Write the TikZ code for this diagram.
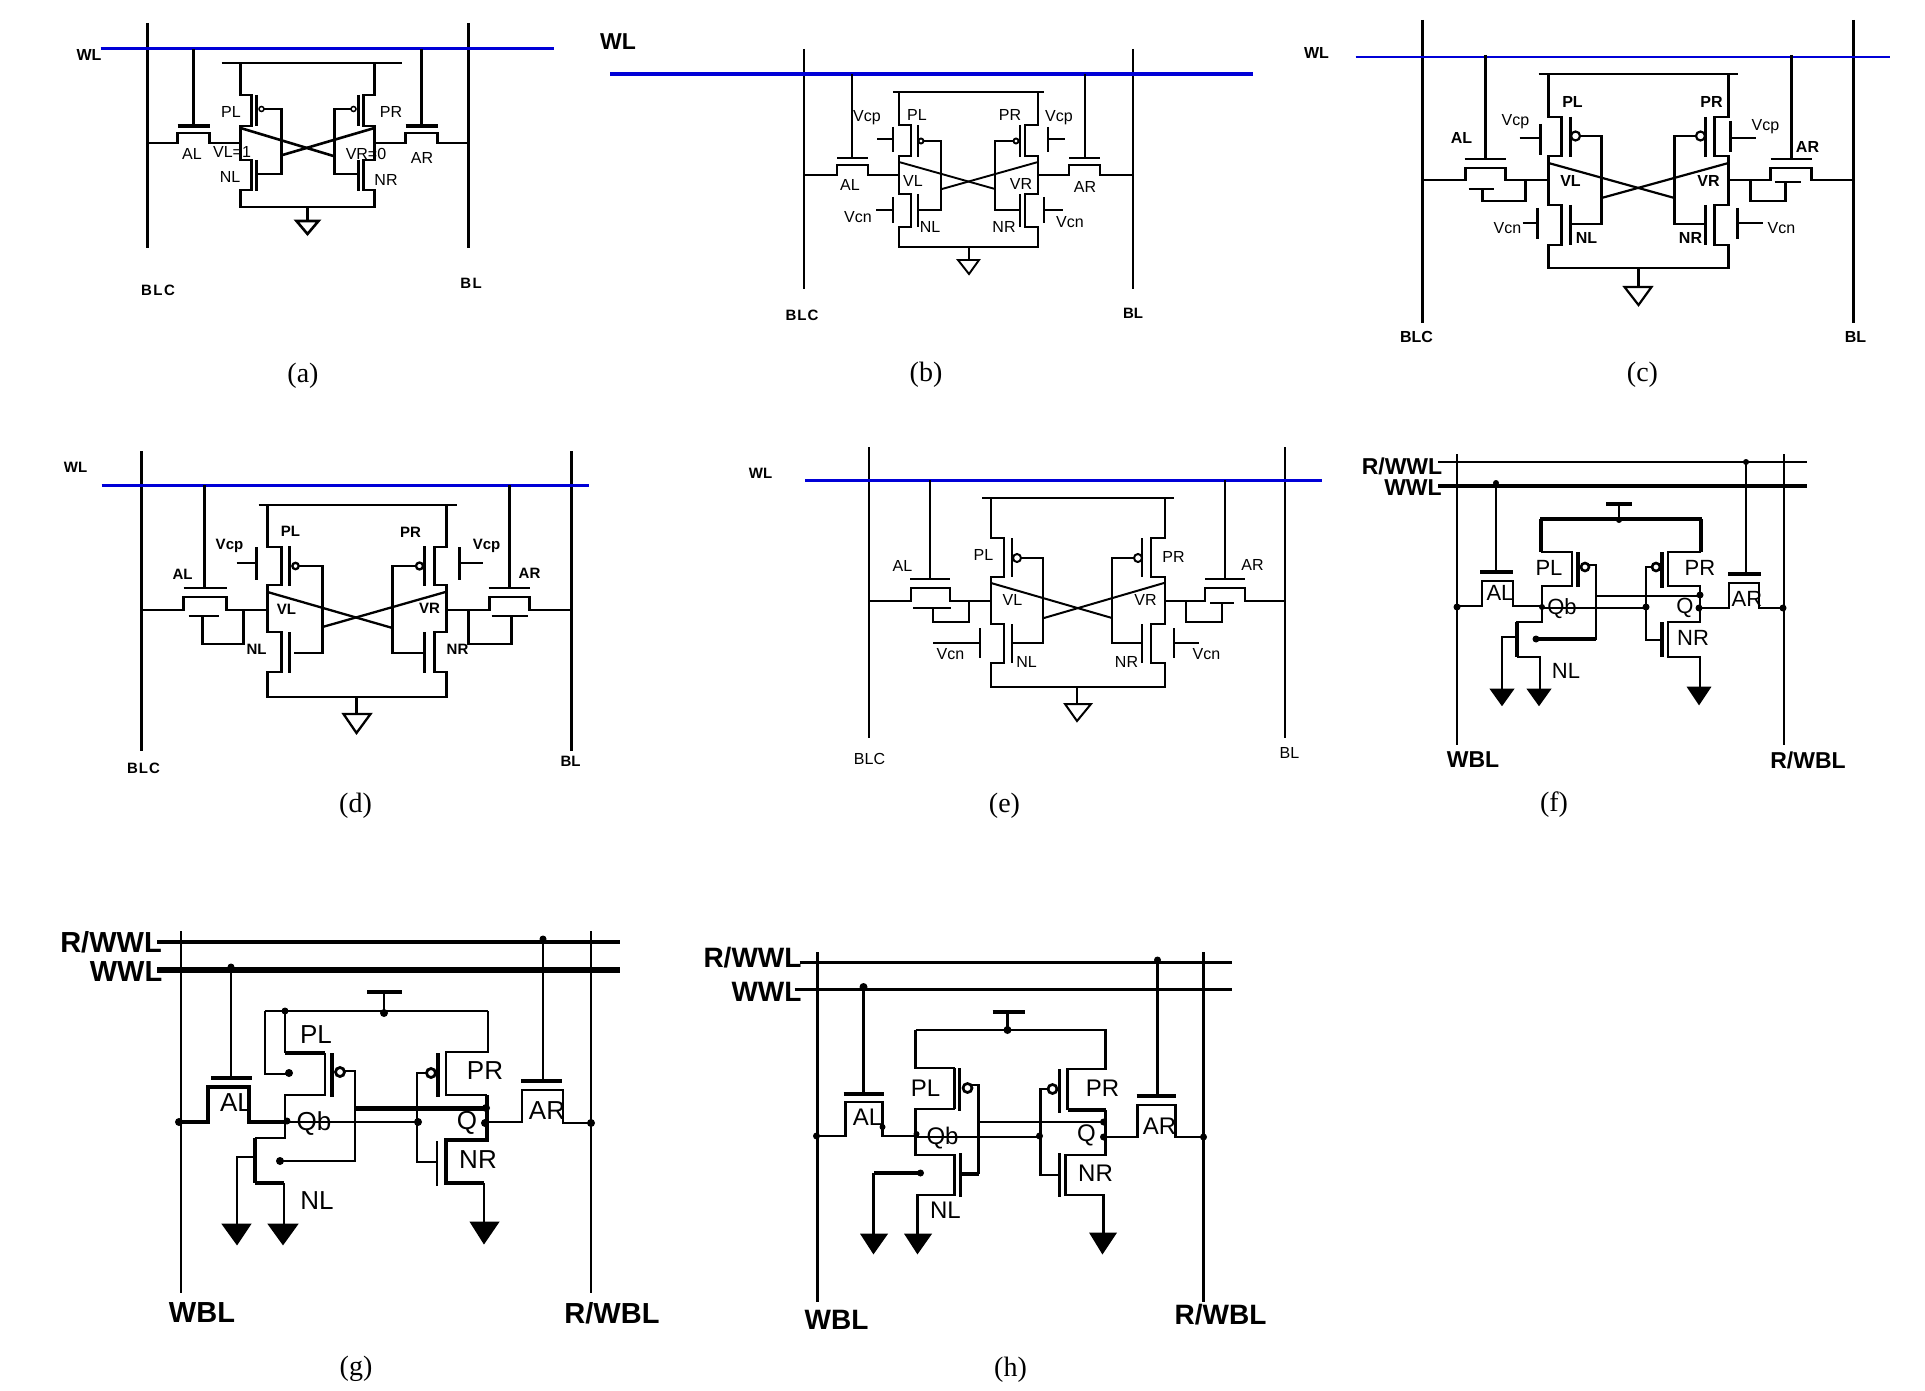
\documentclass[tikz,border=0pt]{standalone}
\usepackage{fontspec}
\setmainfont{Liberation Serif}
\setsansfont{Liberation Sans}
\usetikzlibrary{positioning}
\definecolor{wlblue}{RGB}{0,0,215}
\tikzset{
  lbl/.style={font=\sffamily\fontsize{#1}{#1}\selectfont,inner sep=0pt},
  blbl/.style={font=\sffamily\bfseries\fontsize{#1}{#1}\selectfont,inner sep=0pt},
  panel/.style={font=\rmfamily\fontsize{28}{28}\selectfont,inner sep=0pt},
  wl/.style={draw=wlblue,line width=#1},
  gnd/.style={fill=black,draw=black,line join=miter},
  bub/.style={fill=white,draw=black},
  dotn/.style={fill=black,draw=none}
}
\begin{document}
\begin{tikzpicture}[x=1pt,y=-1pt]
\useasboundingbox (0,0) rectangle (1925,1391);
\fill[white] (0,0) rectangle (1925,1391);

% (a)
\begin{scope}[xshift=-0.5pt,line width=2.6pt]
\draw (148,23) -- (148,248);
\draw (469,23) -- (469,248);
\draw[wl=3pt] (101,49) -- (554,49);
\draw (194,49) -- (194,126);
\draw (422,49) -- (422,126);
\draw[line width=3.2pt] (178,126) -- (210,126);
\draw[line width=3.2pt] (406,126) -- (438,126);
\draw (148,143) -- (178,143) -- (178,133) -- (210,133) -- (210,143) -- (241,143);
\draw (375,143) -- (406,143) -- (406,133) -- (438,133) -- (438,143) -- (469,143);
\draw (222,63) -- (402,63);
\draw (241,63) -- (241,95) -- (252,95) -- (252,126) -- (241,126) -- (241,160) -- (252,160) -- (252,190) -- (241,190) -- (241,207)
  -- (375,207) -- (375,190) -- (364,190) -- (364,160) -- (375,160) -- (375,126) -- (364,126) -- (364,95) -- (375,95) -- (375,63);
\draw[line width=3.2pt] (257,95) -- (257,126);
\draw[line width=3.2pt] (257,160) -- (257,191);
\draw[line width=3.2pt] (359,95) -- (359,126);
\draw[line width=3.2pt] (359,160) -- (359,191);
\draw (264,109) -- (282,109) -- (282,174) -- (258,174);
\draw (352,109) -- (335,109) -- (335,174) -- (359,174);
\draw[bub,line width=1.5pt] (262,109) circle (2.5pt);
\draw[bub,line width=1.5pt] (354,109) circle (2.5pt);
\draw (241,128) -- (334,156);
\draw (375,128) -- (283,155);
\draw (308,207) -- (308,221);
\draw (297,221) -- (319,221) -- (308,234) -- cycle;
\end{scope}
\begin{scope}[xshift=-1pt,every node/.append style={lbl=16}]
\node[blbl=16] (aWL) at (90,55) {WL};
\node (aPL) at (232,112) {PL};
\node (aPR) at (392,112) {PR};
\node (aAL) at (193,154) {AL};
\node (aAR) at (423,158) {AR};
\node (aVL) at (233,152) {VL=1};
\node (aVR) at (367,154) {VR=0};
\node (aNL) at (231,177) {NL};
\node (aNR) at (387,180) {NR};
\node[blbl=15] (aBLC) at (159,290) {B\kern1.5pt L\kern1.5pt C};
\node[blbl=15] (aBL) at (472,283) {B\kern1.5pt L};
\node[panel] (acap) at (304,376) {(a)};
\end{scope}

% (b)
\begin{scope}[xshift=-1pt,line width=1.9pt]
\draw (805,49) -- (805,289);
\draw (1134,49) -- (1134,289);
\draw[wl=4pt] (611,74) -- (1254,74);
\draw (853,74) -- (853,158);
\draw (1086,74) -- (1086,158);
\draw[line width=2.3pt] (838,158) -- (869,158);
\draw[line width=2.3pt] (1070,158) -- (1101,158);
\draw (805,175) -- (838,175) -- (838,165) -- (869,165) -- (869,175) -- (900,175);
\draw (1039,175) -- (1070,175) -- (1070,165) -- (1101,165) -- (1101,175) -- (1134,175);
\draw (894,92) -- (1045,92);
\draw (900,92) -- (900,125) -- (912,125) -- (912,156) -- (900,156) -- (900,194) -- (912,194) -- (912,227) -- (900,227) -- (900,247)
  -- (1039,247) -- (1039,227) -- (1026,227) -- (1026,194) -- (1039,194) -- (1039,156) -- (1026,156) -- (1026,125) -- (1039,125) -- (1039,92);
\draw (919,125) -- (919,157);
\draw (919,194) -- (919,227);
\draw (1021,125) -- (1021,157);
\draw (1021,194) -- (1021,227);
\draw (925,141) -- (942,141) -- (942,210) -- (919,210);
\draw (1014,141) -- (996,141) -- (996,210) -- (1021,210);
\draw[bub] (922,141) circle (2.5pt);
\draw[bub] (1017,141) circle (2.5pt);
\draw (900,162) -- (996,189);
\draw (1039,162) -- (943,189);
\draw (970,247) -- (970,260);
\draw (959,260) -- (980,260) -- (970,274) -- cycle;
\draw (894,127) -- (894,152);
\draw (878,139) -- (894,139);
\draw (1049,127) -- (1049,152);
\draw (1049,139) -- (1066,139);
\draw (894,197) -- (894,223);
\draw (877,210) -- (894,210);
\draw (1045,197) -- (1045,223);
\draw (1045,210) -- (1064,210);
\end{scope}
\begin{scope}[xshift=-2pt,every node/.append style={lbl=16}]
\node[blbl=23] (bWL) at (620,42) {WL};
\node (bVcpL) at (869,118) {Vcp};
\node (bPL) at (919,115) {PL};
\node (bPR) at (1012,115) {PR};
\node (bVcpR) at (1061,118) {Vcp};
\node (bVL) at (915,181) {VL};
\node (bVR) at (1023,184) {VR};
\node (bAL) at (852,185) {AL};
\node (bAR) at (1087,187) {AR};
\node (bVcnL) at (860,217) {Vcn};
\node (bVcnR) at (1072,222) {Vcn};
\node (bNL) at (932,227) {NL};
\node (bNR) at (1006,227) {NR};
\node[blbl=15] (bBLC) at (804,315) {B\kern1pt L\kern1pt C};
\node[blbl=15] (bBL) at (1135,313) {BL};
\node[panel] (bcap) at (928,375) {(b)};
\end{scope}

% (c)
\begin{scope}[xshift=-1.5pt,line width=2.2pt]
\draw (1424,20) -- (1424,323);
\draw (1855,20) -- (1855,323);
\draw[wl=2.5pt] (1357,57) -- (1891,57);
\draw (1487,55) -- (1487,159);
\draw (1793,55) -- (1793,159);
\draw[line width=2.6pt] (1466,159) -- (1507,159);
\draw[line width=2.6pt] (1772,159) -- (1813,159);
\draw (1424,180) -- (1467,180) -- (1467,168) -- (1507,168) -- (1507,180) -- (1550,180);
\draw (1730,180) -- (1772,180) -- (1772,168) -- (1813,168) -- (1813,180) -- (1855,180);
\draw (1470,189) -- (1495,189);
\draw (1484,189) -- (1484,201) -- (1527,201) -- (1527,180);
\draw (1776,182) -- (1802,182);
\draw (1787,182) -- (1787,201) -- (1752,201) -- (1752,180);
\draw (1540,74) -- (1739,74);
\draw (1550,74) -- (1550,117) -- (1563,117) -- (1563,156) -- (1550,156) -- (1550,205) -- (1563,205) -- (1563,245) -- (1550,245) -- (1550,268)
  -- (1730,268) -- (1730,245) -- (1716,245) -- (1716,205) -- (1730,205) -- (1730,156) -- (1716,156) -- (1716,117) -- (1730,117) -- (1730,74);
\draw (1572,117) -- (1572,157);
\draw (1572,205) -- (1572,245);
\draw (1707,117) -- (1707,157);
\draw (1707,205) -- (1707,245);
\draw (1582,136) -- (1603,136) -- (1603,224) -- (1572,224);
\draw (1697,136) -- (1676,136) -- (1676,224) -- (1707,224);
\draw[bub] (1577,136) circle (4.5pt);
\draw[bub] (1702,136) circle (4.5pt);
\draw (1550,163) -- (1676,198);
\draw (1730,163) -- (1603,198);
\draw (1640,268) -- (1640,287);
\draw (1626,287) -- (1653,287) -- (1640,305) -- cycle;
\draw (1542,124) -- (1542,155);
\draw (1521,138) -- (1542,138);
\draw (1732,121) -- (1732,152);
\draw (1732,138) -- (1757,138);
\draw (1539,208) -- (1539,239);
\draw (1524,223) -- (1539,223);
\draw (1739,208) -- (1739,239);
\draw (1739,223) -- (1764,223);
\end{scope}
\begin{scope}[xshift=-1.5pt,every node/.append style={blbl=16}]
\node (cWL) at (1318,53) {WL};
\node (cPL) at (1574,102) {PL};
\node (cPR) at (1713,102) {PR};
\node[lbl=16] (cVcpL) at (1517,122) {Vcp};
\node[lbl=16] (cVcpR) at (1767,127) {Vcp};
\node (cAL) at (1463,138) {AL};
\node (cAR) at (1809,147) {AR};
\node (cVL) at (1572,181) {VL};
\node (cVR) at (1710,181) {VR};
\node[lbl=16] (cVcnL) at (1509,228) {Vcn};
\node[lbl=16] (cVcnR) at (1783,228) {Vcn};
\node (cNL) at (1588,238) {NL};
\node (cNR) at (1692,238) {NR};
\node (cBLC) at (1418,337) {BLC};
\node (cBL) at (1857,337) {BL};
\node[panel] (ccap) at (1644,375) {(c)};
\end{scope}

% (d)
\begin{scope}[xshift=-1.5pt,line width=2.3pt]
\draw (143,451) -- (143,751);
\draw (573,451) -- (573,751);
\draw[wl=3pt] (103,485) -- (590,485);
\draw (206,485) -- (206,588);
\draw (511,485) -- (511,588);
\draw[line width=2.8pt] (185,588) -- (228,588);
\draw[line width=2.8pt] (490,588) -- (531,588);
\draw (143,610) -- (185,610) -- (185,597) -- (228,597) -- (228,610) -- (269,610);
\draw (448,610) -- (491,610) -- (491,597) -- (531,597) -- (531,610) -- (573,610);
\draw (190,616) -- (220,616);
\draw (204,616) -- (204,644) -- (245,644) -- (245,610);
\draw (493,616) -- (529,616);
\draw (513,616) -- (513,644) -- (470,644) -- (470,610);
\draw (260,505) -- (458,505);
\draw (269,505) -- (269,547) -- (283,547) -- (283,585) -- (269,585) -- (269,632) -- (283,632) -- (283,672) -- (269,672) -- (269,697)
  -- (448,697) -- (448,672) -- (436,672) -- (436,632) -- (448,632) -- (448,585) -- (436,585) -- (436,547) -- (448,547) -- (448,505);
\draw (291,546) -- (291,586);
\draw (291,632) -- (291,673);
\draw (426,546) -- (426,586);
\draw (426,632) -- (426,673);
\draw (300,566) -- (324,566) -- (324,653) -- (295,653);
\draw (417,566) -- (394,566) -- (394,653) -- (425,653);
\draw[bub] (297,566) circle (3.2pt);
\draw[bub] (421,566) circle (3.5pt);
\draw (269,592) -- (394,628);
\draw (447,592) -- (324,627);
\draw (358,697) -- (358,714);
\draw (345,714) -- (372,714) -- (358,733) -- cycle;
\draw (258,547) -- (258,580);
\draw (238,563) -- (258,563);
\draw (461,547) -- (461,580);
\draw (461,563) -- (484,563);
\end{scope}
\begin{scope}[xshift=-1.5pt,yshift=1.5pt,every node/.append style={blbl=15}]
\node (dWL) at (77,469) {WL};
\node (dPL) at (292,533) {PL};
\node (dPR) at (412,534) {PR};
\node (dVcpL) at (231,547) {Vcp};
\node (dVcpR) at (488,547) {Vcp};
\node (dAL) at (184,576) {AL};
\node (dAR) at (531,575) {AR};
\node (dVL) at (288,611) {VL};
\node (dVR) at (431,610) {VR};
\node (dNL) at (258,651) {NL};
\node (dNR) at (459,651) {NR};
\node (dBLC) at (145,770) {B\kern1pt L\kern1pt C};
\node (dBL) at (572,763) {BL};
\node[panel] (dcap) at (357,807) {(d)};
\end{scope}

% (e)
\begin{scope}[xshift=-1pt,line width=2pt]
\draw (870,447) -- (870,738);
\draw (1286,447) -- (1286,738);
\draw[wl=3pt] (806,480) -- (1323,480);
\draw (931,480) -- (931,579);
\draw (1226,480) -- (1226,579);
\draw[line width=2.5pt] (911,579) -- (951,579);
\draw[line width=2.5pt] (1206,579) -- (1246,579);
\draw (870,601) -- (912,601) -- (912,588) -- (951,588) -- (951,601) -- (992,601);
\draw (1166,601) -- (1206,601) -- (1206,588) -- (1246,588) -- (1246,601) -- (1286,601);
\draw (914,608) -- (952,608);
\draw (934,608) -- (934,622) -- (970,622) -- (970,601);
\draw (1211,603) -- (1235,603);
\draw (1223,603) -- (1223,622) -- (1187,622) -- (1187,601);
\draw (983,498) -- (1175,498);
\draw (992,498) -- (992,538) -- (1005,538) -- (1005,577) -- (992,577) -- (992,624) -- (1005,624) -- (1005,663) -- (992,663) -- (992,687)
  -- (1166,687) -- (1166,663) -- (1152,663) -- (1152,624) -- (1166,624) -- (1166,577) -- (1152,577) -- (1152,538) -- (1166,538) -- (1166,498);
\draw (1013,538) -- (1013,577);
\draw (1013,624) -- (1013,663);
\draw (1143,538) -- (1143,577);
\draw (1143,624) -- (1143,663);
\draw (1022,558) -- (1044,558) -- (1044,643) -- (1014,643);
\draw (1135,558) -- (1113,558) -- (1113,643) -- (1143,643);
\draw[bub] (1018,558) circle (4pt);
\draw[bub] (1139,558) circle (4pt);
\draw (992,583) -- (1113,618);
\draw (1165,583) -- (1045,618);
\draw (1078,687) -- (1078,704);
\draw (1066,704) -- (1092,704) -- (1078,721) -- cycle;
\draw (981,628) -- (981,658);
\draw (934,643) -- (981,643);
\draw (1175,628) -- (1175,658);
\draw (1175,643) -- (1200,643);
\end{scope}
\begin{scope}[xshift=-1.5pt,yshift=1.5pt,every node/.append style={lbl=16}]
\node[blbl=15] (eWL) at (762,475) {WL};
\node (ePL) at (985,556) {PL};
\node (ePR) at (1175,558) {PR};
\node (eAL) at (904,567) {AL};
\node (eAR) at (1254,566) {AR};
\node (eVL) at (1014,601) {VL};
\node (eVR) at (1147,601) {VR};
\node (eVcnL) at (952,656) {Vcn};
\node (eVcnR) at (1208,656) {Vcn};
\node (eNL) at (1028,663) {NL};
\node (eNR) at (1128,663) {NR};
\node (eBLC) at (871,760) {BLC};
\node (eBL) at (1291,754) {BL};
\node[panel] (ecap) at (1006,807) {(e)};
\end{scope}

% (f)
\begin{scope}[line width=2.6pt]
\draw (1457,454) -- (1457,745);
\draw (1784,454) -- (1784,745);
\draw (1438,462) -- (1807,462);
\draw[line width=4pt] (1438,486) -- (1807,486);
\draw (1496,483) -- (1496,572);
\draw (1746,462) -- (1746,574);
\draw[line width=3.2pt] (1480,572) -- (1513,572);
\draw[line width=3.2pt] (1728,574) -- (1761,574);
\draw (1457,606) -- (1482,606) -- (1482,581) -- (1513,581) -- (1513,606) -- (1542,606);
\draw (1700,608) -- (1729,608) -- (1729,583) -- (1759,583) -- (1759,608) -- (1784,608);
\draw[line width=3.2pt] (1606,504) -- (1632,504);
\draw (1619,504) -- (1619,519);
\draw[line width=4pt] (1540,519) -- (1702,519);
\draw[line width=4pt] (1541,519) -- (1541,552);
\draw[line width=4pt] (1701,519) -- (1701,552);
\draw (1541,552) -- (1572,552) -- (1572,586) -- (1542,586) -- (1542,622) -- (1516,622);
\draw[line width=4.5pt] (1517,622) -- (1517,657);
\draw (1517,657) -- (1540,657) -- (1540,690);
\draw (1516,637) -- (1502,637) -- (1502,690);
\draw (1701,552) -- (1668,552) -- (1668,586) -- (1700,586) -- (1700,622) -- (1668,622) -- (1668,657) -- (1700,657) -- (1700,688);
\draw[line width=3.2pt] (1578,552) -- (1578,587);
\draw[line width=3.2pt] (1662,552) -- (1662,588);
\draw[line width=3.2pt] (1662,622) -- (1662,657);
\draw[line width=3.2pt] (1536,639) -- (1596,639);
\draw (1596,640) -- (1596,565) -- (1589,565);
\draw (1652,567) -- (1646,567) -- (1646,640) -- (1660,640);
\draw (1596,596) -- (1700,596);
\draw (1542,608) -- (1646,608);
\draw[bub] (1585,567) circle (4pt);
\draw[bub] (1656,567) circle (4pt);
\draw[gnd] (1492,690) -- (1512,690) -- (1502,704) -- cycle;
\draw[gnd] (1529,690) -- (1549,690) -- (1539,704) -- cycle;
\draw[gnd] (1689,688) -- (1709,688) -- (1699,703) -- cycle;
\fill[dotn] (1496,483) circle (3pt) (1746,462) circle (3pt) (1457,607) circle (3.5pt) (1783,608) circle (3.5pt)
  (1542,607) circle (3pt) (1646,607) circle (3.5pt) (1700,595) circle (3.5pt) (1699,608) circle (3.5pt)
  (1619,520) circle (3pt) (1536,639) circle (3.5pt);
\end{scope}
\begin{scope}[yshift=2pt,every node/.append style={lbl=22}]
\node[blbl=23] (fRWWL) at (1402,468) {R/WWL};
\node[blbl=23] (fWWL) at (1413,490) {WWL};
\node (fPL) at (1549,570) {PL};
\node (fPR) at (1700,570) {PR};
\node (fAL) at (1500,595) {AL};
\node (fAR) at (1747,601) {AR};
\node (fQb) at (1562,611) {Qb};
\node (fQ) at (1685,610) {Q};
\node (fNR) at (1693,640) {NR};
\node (fNL) at (1566,673) {NL};
\node[blbl=23] (fWBL) at (1473,762) {WBL};
\node[blbl=23] (fRWBL) at (1808,762) {R/WBL};
\node[panel] (fcap) at (1554,807) {(f)};
\end{scope}

% (g)
\begin{scope}[xshift=-2pt,line width=2.8pt]
\draw (183,931) -- (183,1293);
\draw (593,931) -- (593,1293);
\draw[line width=3.2pt] (159,942) -- (622,942);
\draw[line width=6pt] (159,970) -- (622,970);
\draw (233,967) -- (233,1078);
\draw (545,939) -- (545,1081);
\draw[line width=3.6pt] (213,1078) -- (254,1078);
\draw[line width=3.6pt] (523,1081) -- (564,1081);
\draw[line width=4.2pt] (183,1122) -- (210,1122) -- (210,1087) -- (251,1087) -- (251,1122) -- (288,1122);
\draw (488,1122) -- (524,1122) -- (524,1090) -- (565,1090) -- (565,1123) -- (593,1123);
\draw[line width=3.6pt] (369,992) -- (404,992);
\draw (386,992) -- (386,1011);
\draw (267,1011) -- (490,1011);
\draw (267,1011) -- (267,1074) -- (291,1074);
\draw (287,1011) -- (287,1053);
\draw[line width=3.6pt] (287,1053) -- (327,1053);
\draw (327,1053) -- (327,1095) -- (287,1095) -- (287,1138) -- (257,1138);
\draw[line width=4.2pt] (257,1138) -- (257,1183);
\draw[line width=3.6pt] (257,1183) -- (286,1183);
\draw (286,1183) -- (286,1225);
\draw (255,1157) -- (239,1157) -- (239,1225);
\draw (490,1011) -- (490,1052) -- (448,1052) -- (448,1095) -- (489,1095);
\draw[line width=4.2pt] (489,1095) -- (489,1140) -- (448,1140) -- (448,1183) -- (486,1183);
\draw (486,1183) -- (486,1223);
\draw[line width=3.6pt] (334,1053) -- (334,1097);
\draw[line width=3.6pt] (440,1053) -- (440,1097);
\draw (439,1141) -- (439,1186);
\draw (282,1161) -- (357,1161) -- (357,1071) -- (347,1071);
\draw (428,1073) -- (419,1073) -- (419,1162) -- (438,1162);
\draw[line width=5pt] (358,1108) -- (490,1108);
\draw (288,1122) -- (421,1122);
\draw[bub] (342,1072) circle (4.5pt);
\draw[bub] (433,1073) circle (4.5pt);
\draw[gnd] (226,1225) -- (251,1225) -- (239,1243) -- cycle;
\draw[gnd] (272,1225) -- (298,1225) -- (285,1243) -- cycle;
\draw[gnd] (474,1223) -- (499,1223) -- (486,1242) -- cycle;
\fill[dotn] (233,967) circle (3.5pt) (545,939) circle (3.5pt) (181,1122) circle (4pt) (593,1123) circle (4pt)
  (289,1121) circle (3.5pt) (420,1122) circle (4pt) (488,1108) circle (4pt) (487,1123) circle (4pt)
  (386,1013) circle (4pt) (287,1011) circle (3.5pt) (291,1073) circle (4pt) (282,1161) circle (4pt);
\end{scope}
\begin{scope}[xshift=-2pt,yshift=5pt,every node/.append style={lbl=26}]
\node[blbl=29] (gRWWL) at (113,947) {R/WWL};
\node[blbl=29] (gWWL) at (128,977) {WWL};
\node (gPL) at (318,1040) {PL};
\node (gPR) at (487,1076) {PR};
\node (gAL) at (238,1108) {AL};
\node (gAR) at (549,1116) {AR};
\node (gQb) at (316,1129) {Qb};
\node (gQ) at (469,1128) {Q};
\node (gNR) at (480,1165) {NR};
\node (gNL) at (319,1206) {NL};
\node[blbl=29] (gWBL) at (204,1318) {WBL};
\node[blbl=29] (gRWBL) at (614,1318) {R/WBL};
\node[panel] (gcap) at (358,1374) {(g)};
\end{scope}

% (h)
\begin{scope}[xshift=-1.5pt,line width=2.7pt]
\draw (819,952) -- (819,1302);
\draw (1205,952) -- (1205,1302);
\draw[line width=3pt] (801,962) -- (1233,962);
\draw[line width=3pt] (796,989) -- (1233,989);
\draw (865,987) -- (865,1094);
\draw (1159,960) -- (1159,1096);
\draw[line width=3.4pt] (845,1094) -- (885,1094);
\draw[line width=3.4pt] (1138,1096) -- (1177,1096);
\draw (819,1136) -- (847,1136) -- (847,1102) -- (884,1102) -- (884,1136) -- (918,1136);
\draw (1105,1137) -- (1139,1137) -- (1139,1105) -- (1177,1105) -- (1177,1137) -- (1205,1137);
\draw[line width=4.5pt] (994,1012) -- (1026,1012);
\draw (1009,1012) -- (1009,1030);
\draw (917,1030) -- (1108,1030);
\draw (917,1030) -- (917,1068) -- (956,1068);
\draw[line width=3.6pt] (956,1068) -- (956,1109);
\draw (956,1109) -- (917,1109) -- (917,1155) -- (956,1155) -- (956,1195) -- (919,1195) -- (919,1235);
\draw (1107,1030) -- (1107,1069) -- (1069,1069) -- (1069,1110);
\draw[line width=3.6pt] (1069,1110) -- (1107,1110);
\draw (1107,1110) -- (1107,1155) -- (1067,1155) -- (1067,1195) -- (1105,1195) -- (1105,1234);
\draw[line width=3.2pt] (961,1068) -- (961,1111);
\draw[line width=3.2pt] (962,1153) -- (962,1197);
\draw (1061,1069) -- (1061,1113);
\draw[line width=3.2pt] (1061,1153) -- (1061,1197);
\draw (973,1085) -- (980,1085) -- (980,1174);
\draw[line width=3.2pt] (980,1174) -- (963,1174);
\draw (1049,1089) -- (1042,1089) -- (1042,1175) -- (1059,1175);
\draw (981,1122) -- (1106,1122);
\draw (918,1137) -- (1041,1137);
\draw[line width=3.6pt] (922,1173) -- (875,1173);
\draw (875,1173) -- (875,1235);
\draw[bub] (969,1088) circle (4.5pt);
\draw[bub] (1054,1089) circle (4.5pt);
\draw[gnd] (864,1235) -- (887,1235) -- (875,1252) -- cycle;
\draw[gnd] (908,1235) -- (931,1235) -- (919,1252) -- cycle;
\draw[gnd] (1093,1234) -- (1116,1234) -- (1104,1252) -- cycle;
\fill[dotn] (865,987) circle (4pt) (1159,960) circle (3.5pt) (818,1136) circle (3.5pt) (1205,1137) circle (3.5pt)
  (918,1134) circle (3pt) (1041,1136) circle (3.5pt) (1105,1122) circle (3.5pt) (1105,1137) circle (3.5pt)
  (1009,1030) circle (4pt) (922,1173) circle (3.5pt) (884,1127) circle (3pt);
\end{scope}
\begin{scope}[xshift=-1.5pt,yshift=4.5pt,every node/.append style={lbl=24}]
\node[blbl=28] (hRWWL) at (754,962) {R/WWL};
\node[blbl=28] (hWWL) at (768,996) {WWL};
\node (hPL) at (927,1093) {PL};
\node (hPR) at (1104,1093) {PR};
\node (hAL) at (869,1122) {AL};
\node (hAR) at (1161,1131) {AR};
\node (hQb) at (944,1143) {Qb};
\node (hQ) at (1088,1140) {Q};
\node (hNR) at (1097,1178) {NR};
\node (hNL) at (947,1215) {NL};
\node[blbl=28] (hWBL) at (838,1324) {WBL};
\node[blbl=28] (hRWBL) at (1222,1319) {R/WBL};
\node[panel] (hcap) at (1012,1374) {(h)};
\end{scope}
\end{tikzpicture}
\end{document}
